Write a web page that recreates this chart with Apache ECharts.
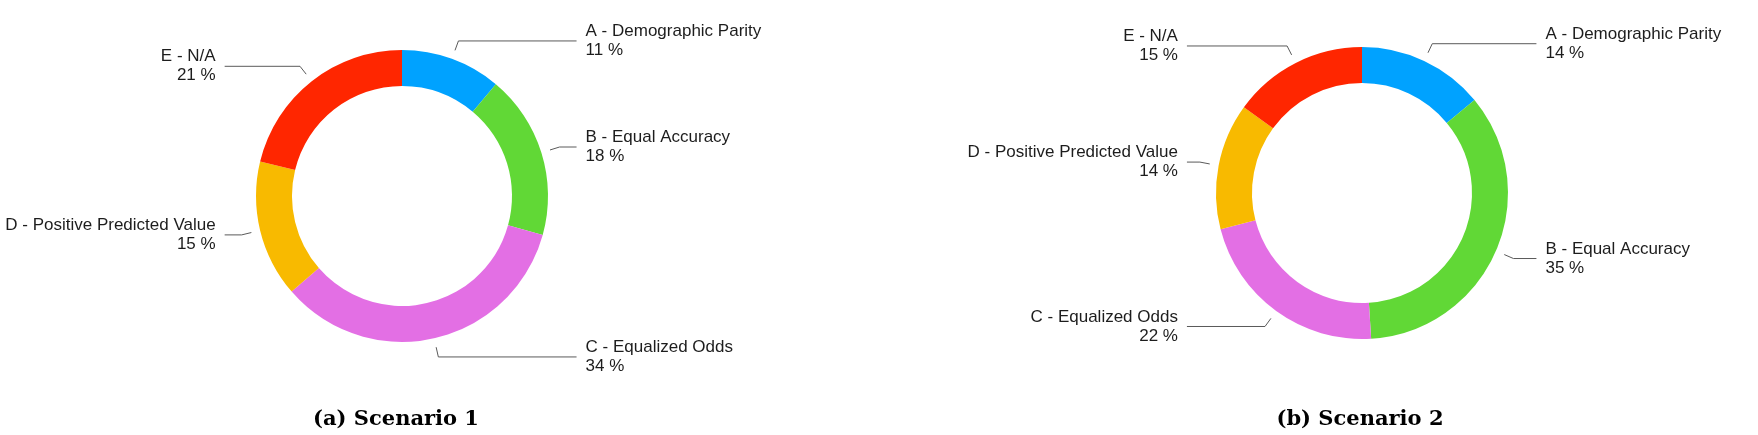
<!DOCTYPE html>
<html>
<head>
<meta charset="utf-8">
<title>Fairness metric choice</title>
<script src="https://cdn.jsdelivr.net/npm/echarts@6/dist/echarts.min.js"></script>
<style>
html, body { margin: 0; padding: 0; background: #fff; }
#chart { width: 1758px; height: 435px; }
</style>
</head>
<body>
<div id="chart"></div>
<script>
var categories = ['A - Demographic Parity', 'B - Equal Accuracy', 'C - Equalized Odds', 'D - Positive Predicted Value', 'E - N/A'];
var scenario1 = [11, 18, 34, 15, 21];
var scenario2 = [14, 35, 22, 14, 15];
var captions = ['(a) Scenario 1', '(b) Scenario 2'];
var colors = ['#00A2FF', '#61D836', '#E36FE4', '#F8BA00', '#FF2600'];

var centers = [[402, 196], [1362, 193]];
var captionX = [396, 1360];

function toData(values) {
    return categories.map(function(name, i) {
        return { name: name, value: values[i] };
    });
}

//the coloured ring, no labels
function ringSeries(values, center) {
    return {
        type: 'pie',
        center: center,
        radius: [110, 146],
        startAngle: 90,
        silent: true,
        label: { show: false },
        labelLine: { show: false },
        data: toData(values)
    };
}

//invisible ring a bit outside, only carries the labels so leader lines start with a gap
//len2 = [left side, right side] horizontal part of the leader
function labelSeries(values, center, len2) {
    var total = values.reduce(function(s, v) { return s + v; }, 0);
    var acc = 0;
    var data = toData(values).map(function(d) {
        var mid = (acc + d.value / 2) / total;
        acc += d.value;
        d.labelLine = { length2: mid < 0.5 ? len2[1] : len2[0] };
        return d;
    });
    return {
        type: 'pie',
        center: center,
        radius: [154, 155],
        startAngle: 90,
        silent: true,
        itemStyle: { color: 'rgba(0,0,0,0)' },
        label: {
            show: true,
            formatter: '{b}\n{c} %',
            alignTo: 'labelLine',
            distanceToLabelLine: 9,
            fontFamily: '"Liberation Sans", Arial, Helvetica, sans-serif',
            fontSize: 17,
            lineHeight: 19,
            color: '#1d1d1d',
            overflow: 'none'
        },
        labelLine: {
            show: true,
            length: 10,
            length2: 18,
            lineStyle: { color: '#5a5a5a', width: 1 }
        },
        data: data
    };
}

var myChart = echarts.init(document.getElementById('chart'));

var option = {
    backgroundColor: '#fff',
    color: colors,
    animation: false,
    series: [
        ringSeries(scenario1, centers[0]),
        labelSeries(scenario1, centers[0], [17, 17]),
        ringSeries(scenario2, centers[1]),
        labelSeries(scenario2, centers[1], [13, 23])
    ],
    graphic: captions.map(function(t, i) {
        return {
            type: 'text',
            x: captionX[i],
            y: 420,
            style: {
                text: t,
                font: 'bold 21px "DejaVu Serif", serif',
                align: 'center',
                verticalAlign: 'middle',
                fill: '#000'
            }
        };
    })
};

myChart.setOption(option);
</script>
</body>
</html>
